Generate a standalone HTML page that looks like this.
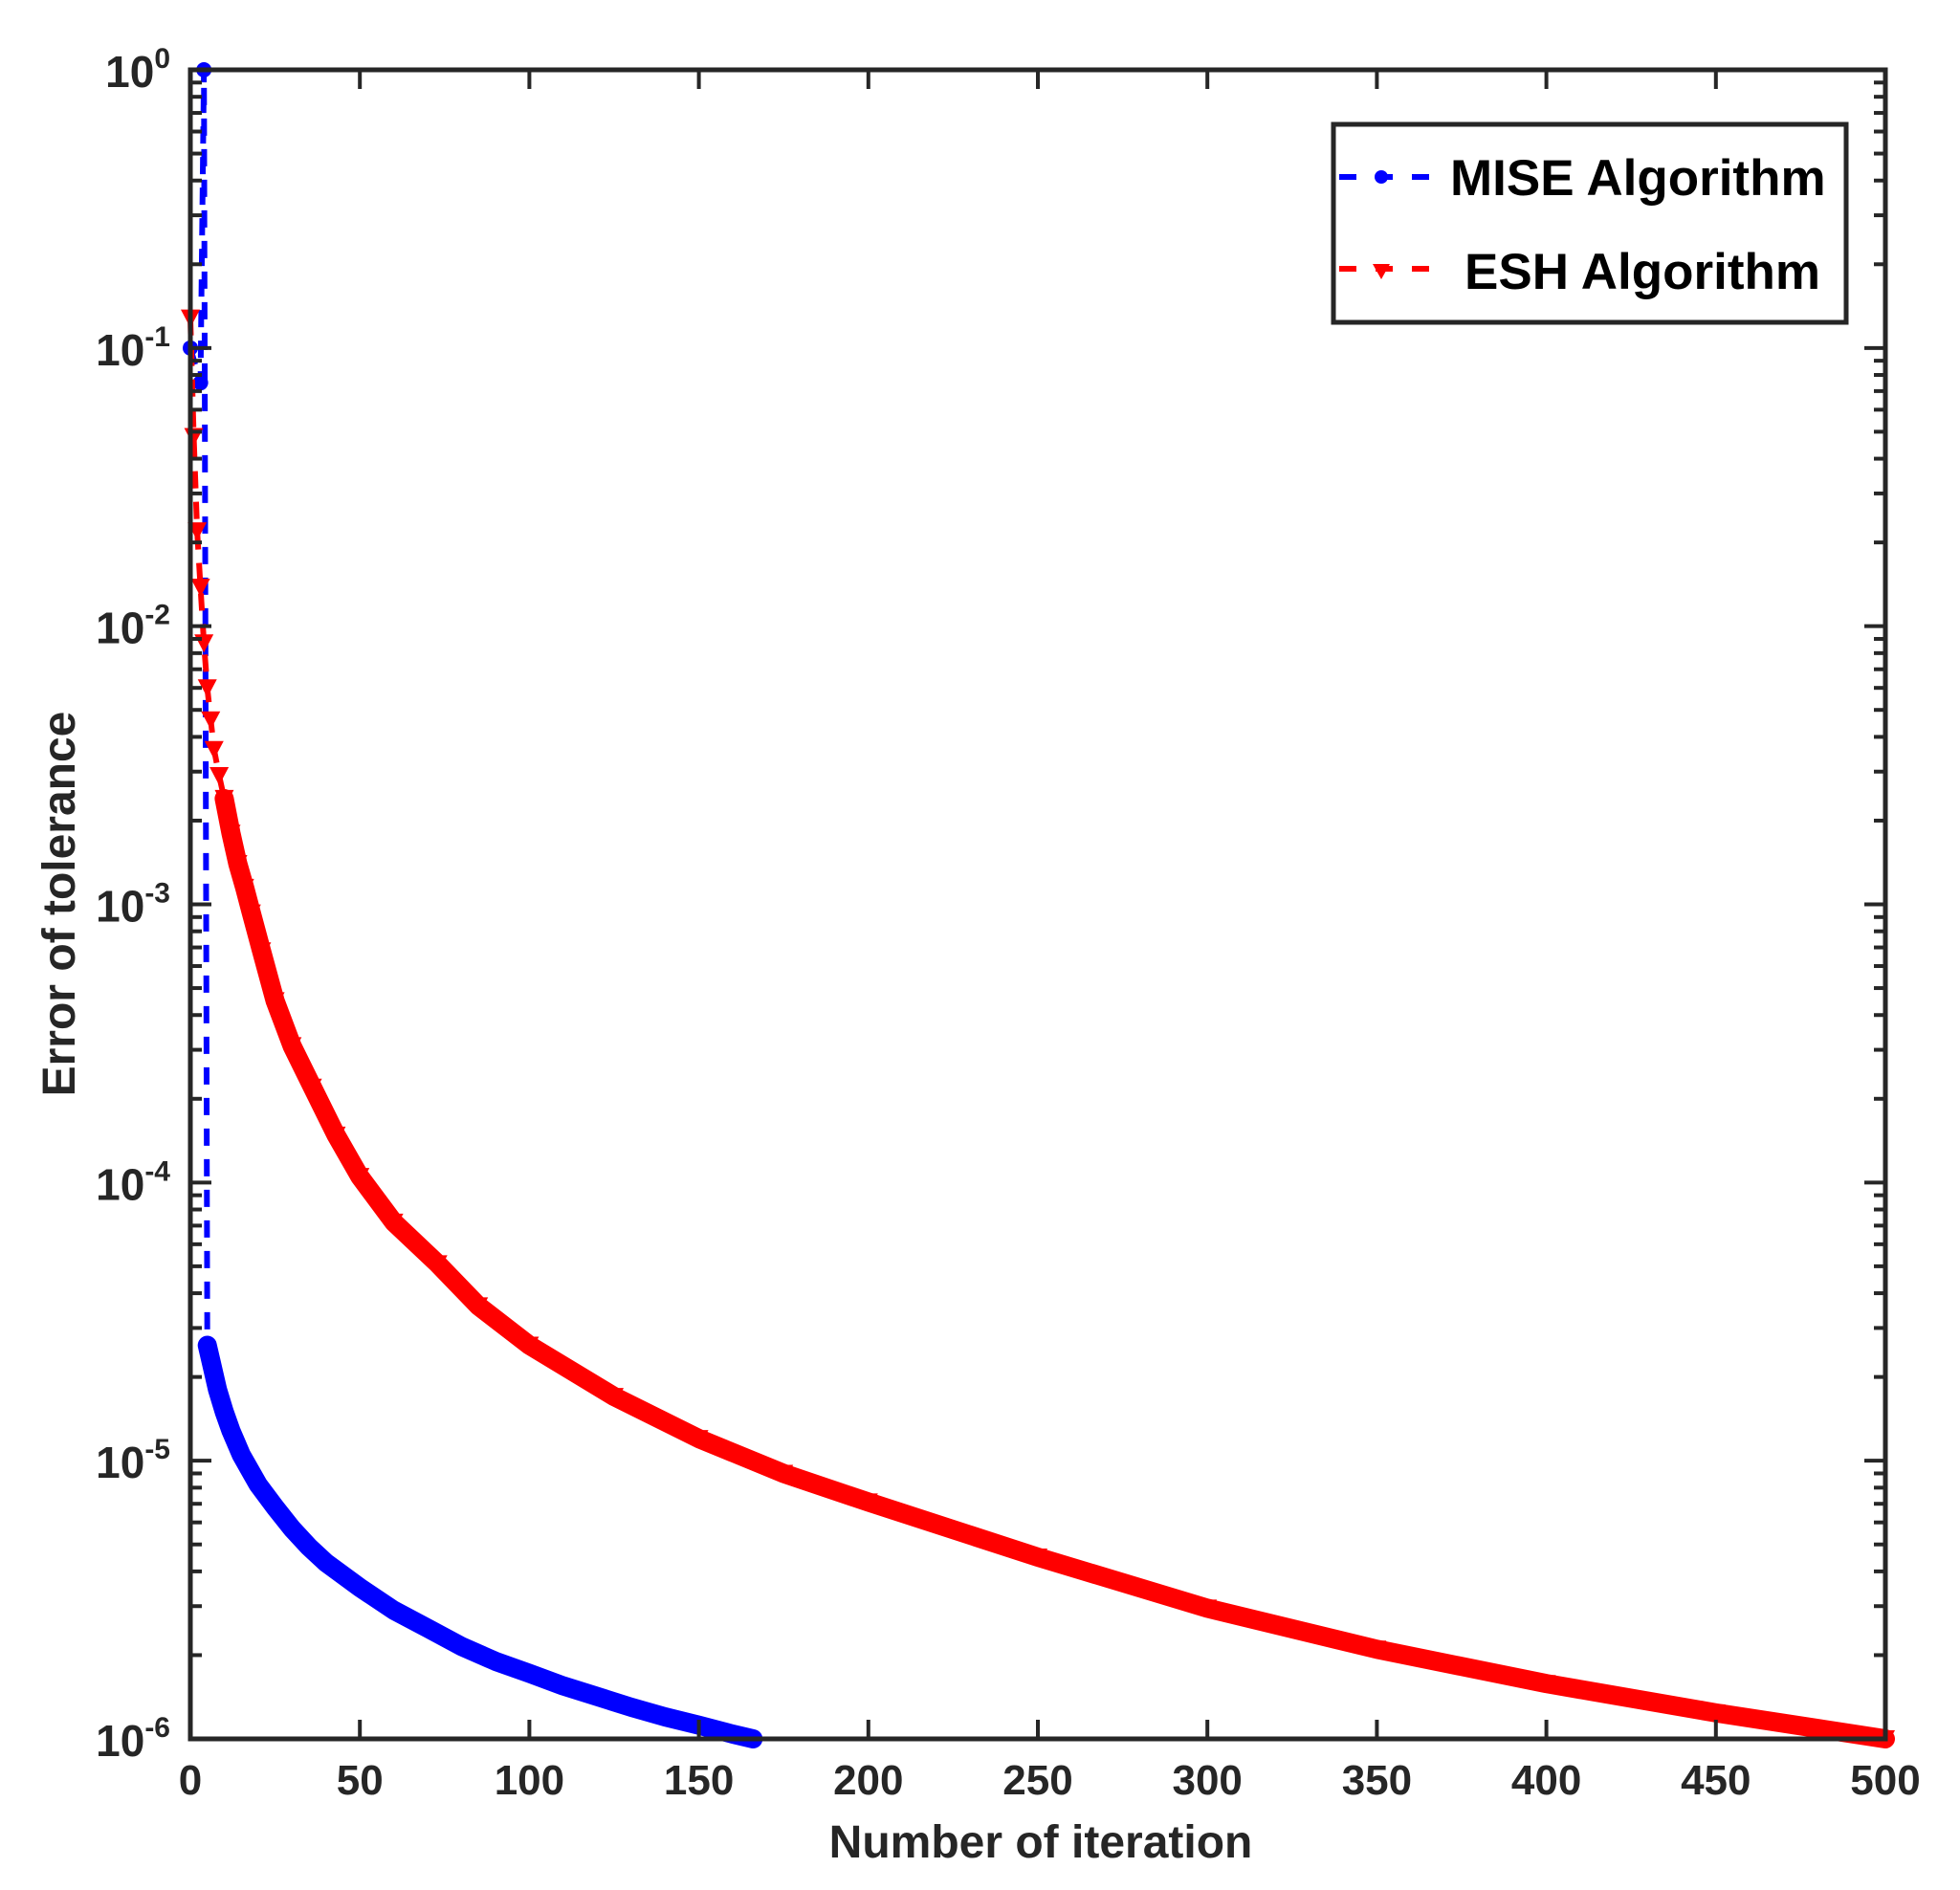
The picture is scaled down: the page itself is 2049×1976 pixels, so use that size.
<!DOCTYPE html>
<html><head><meta charset="utf-8">
<style>
html,body{margin:0;padding:0;background:#fff;}
svg{display:block;font-family:"Liberation Sans",Arial,sans-serif;}
</style></head>
<body>
<svg id="chart" width="2049" height="1976" viewBox="0 0 2049 1976" xmlns="http://www.w3.org/2000/svg">
  <rect width="2049" height="1976" fill="#fff"/>
  <g id="series"></g>
  <g id="axes"></g>
  <text x="1088" y="1942" font-size="48" font-weight="bold" fill="#262626" text-anchor="middle">Number of iteration</text>
  <text transform="translate(78,945) rotate(-90)" font-size="48" font-weight="bold" fill="#262626" text-anchor="middle">Error of tolerance</text>
  <g>
    <rect x="1394" y="130" width="536" height="207" fill="#fff" stroke="#262626" stroke-width="5"/>
    <g>
      <line x1="1400" y1="185" x2="1494" y2="185" stroke="#0000ff" stroke-width="6" stroke-dasharray="18,20"/>
      <circle cx="1444" cy="185" r="7" fill="#0000ff"/>
      <text x="1516" y="204" font-size="53" font-weight="bold" fill="#000">MISE Algorithm</text>
    </g>
    <g>
      <line x1="1400" y1="281" x2="1494" y2="281" stroke="#ff0000" stroke-width="6" stroke-dasharray="18,20"/>
      <path d="M1435,276 L1453,276 L1444,292 Z" fill="#ff0000"/>
      <text x="1531" y="302" font-size="53" font-weight="bold" fill="#000">ESH Algorithm</text>
    </g>
  </g>
</svg>
<script>
// ---- data ----
const miseIter = [0, 3, 4, 5, 6, 8, 10, 12, 15, 20, 25, 30, 35, 40, 50, 60, 70, 80, 90, 100, 110, 120, 130, 140, 150, 160, 166];
const miseErr  = [0.1, 0.075, 1.0, 2.6e-5, 2.3e-5, 1.8e-5, 1.5e-5, 1.28e-5, 1.05e-5, 8.2e-6, 6.8e-6, 5.7e-6, 4.9e-6, 4.3e-6, 3.5e-6, 2.9e-6, 2.5e-6, 2.15e-6, 1.9e-6, 1.72e-6, 1.55e-6, 1.42e-6, 1.3e-6, 1.2e-6, 1.12e-6, 1.04e-6, 1.0e-6];
const eshIter = [0, 1, 2, 3, 4, 5, 6, 7, 8.5, 10, 12, 14, 16, 18, 21, 25, 30, 36, 43, 50, 60, 73, 85, 100, 125, 150, 175, 200, 250, 300, 350, 400, 450, 500];
const eshErr  = [0.128, 0.048, 0.022, 0.0138, 0.0087, 0.006, 0.0046, 0.0036, 0.0029, 0.0024, 0.0018, 0.0014, 0.00115, 0.00093, 0.00068, 0.00045, 0.00031, 0.00022, 0.000148, 1.05e-4, 7.2e-5, 5.1e-5, 3.6e-5, 2.6e-5, 1.7e-5, 1.2e-5, 9.0e-6, 7.1e-6, 4.5e-6, 2.95e-6, 2.1e-6, 1.58e-6, 1.24e-6, 1.0e-6];
const xTicks = [0, 50, 100, 150, 200, 250, 300, 350, 400, 450, 500];
const yExps = [0, -1, -2, -3, -4, -5, -6];

// ---- axis functions ----
const X0 = 199, X1 = 1971, Y0 = 73, Y1 = 1818;
const xMin = 0, xMax = 500, yMinExp = -6, yMaxExp = 0;
function xs(v){ return X0 + (v - xMin) / (xMax - xMin) * (X1 - X0); }
function ys(v){ return Y1 - (Math.log10(v) - yMinExp) / (yMaxExp - yMinExp) * (Y1 - Y0); }

const NS = "http://www.w3.org/2000/svg";
const series = document.getElementById('series');
const axes = document.getElementById('axes');
function mk(tag, attrs, parent){
  const e = document.createElementNS(NS, tag);
  for (const k in attrs) e.setAttribute(k, attrs[k]);
  parent.appendChild(e);
  return e;
}

function drawSeries(iters, errs, color, marker, name, denseFrom){
  const g = mk('g', {}, series);
  
  
  const pts = iters.map((x,i)=> xs(x).toFixed(1)+','+ys(errs[i]).toFixed(1));
  const dashed = mk('polyline', {points: pts.join(' '), fill:'none', stroke:color, 'stroke-width':6, 'stroke-dasharray':'18,14'}, g);
  
  
  const densePts = [];
  iters.forEach((x,i)=>{ if (x >= denseFrom) densePts.push(pts[i]); });
  const band = mk('polyline', {points: densePts.join(' '), fill:'none', stroke:color, 'stroke-width':20, 'stroke-linejoin':'round', 'stroke-linecap':'round'}, g);
  
  
  iters.forEach((x,i)=>{
    const cx = xs(x), cy = ys(errs[i]);
    let m;
    if (marker === 'tri') {
      m = mk('path', {d:`M${cx-10},${cy-9} L${cx+10},${cy-9} L${cx},${cy+10} Z`, fill:color}, g);
    } else {
      m = mk('circle', {cx:cx, cy:cy, r:8, fill:color}, g);
    }
    
    
  });
}
drawSeries(miseIter, miseErr, '#0000ff', 'star', 'mise-series', 5);
drawSeries(eshIter, eshErr, '#ff0000', 'tri', 'esh-series', 10);

// ---- axes ----
const frame = mk('rect', {x:X0, y:Y0, width:X1-X0, height:Y1-Y0, fill:'none', stroke:'#262626', 'stroke-width':5}, axes);



xTicks.forEach(t=>{
  const x = xs(t);
  const tb = mk('line', {x1:x, y1:Y1, x2:x, y2:Y1-20, stroke:'#262626', 'stroke-width':4}, axes);
  
  
  const tt = mk('line', {x1:x, y1:Y0, x2:x, y2:Y0+20, stroke:'#262626', 'stroke-width':4}, axes);
  
  
  const lb = mk('text', {x:x, y:1876, 'font-size':44, 'font-weight':'bold', fill:'#262626', 'text-anchor':'middle'}, axes);
  lb.textContent = String(t);
  
  
});

yExps.forEach(e=>{
  const y = ys(Math.pow(10, e));
  [[X0, X0+22],[X1, X1-22]].forEach(([a,b])=>{
    const l = mk('line', {x1:a, y1:y, x2:b, y2:y, stroke:'#262626', 'stroke-width':4}, axes);
    
    
  });
  if (e < 0) {
    for (let k = 2; k <= 9; k++) {
      const ym = ys(k * Math.pow(10, e));
      [[X0, X0+12],[X1, X1-12]].forEach(([a,b])=>{
        const l = mk('line', {x1:a, y1:ym, x2:b, y2:ym, stroke:'#262626', 'stroke-width':4}, axes);
        
        
      });
    }
  }
  const lb = mk('text', {x:178, y:y+18, 'font-size':46, 'font-weight':'bold', fill:'#262626', 'text-anchor':'end'}, axes);
  
  
  const base = document.createElementNS(NS, 'tspan');
  base.textContent = '10';
  lb.appendChild(base);
  const sup = document.createElementNS(NS, 'tspan');
  sup.setAttribute('dy', '-20');
  sup.setAttribute('font-size', '30');
  sup.textContent = String(e);
  lb.appendChild(sup);
});
</script>
</body></html>
